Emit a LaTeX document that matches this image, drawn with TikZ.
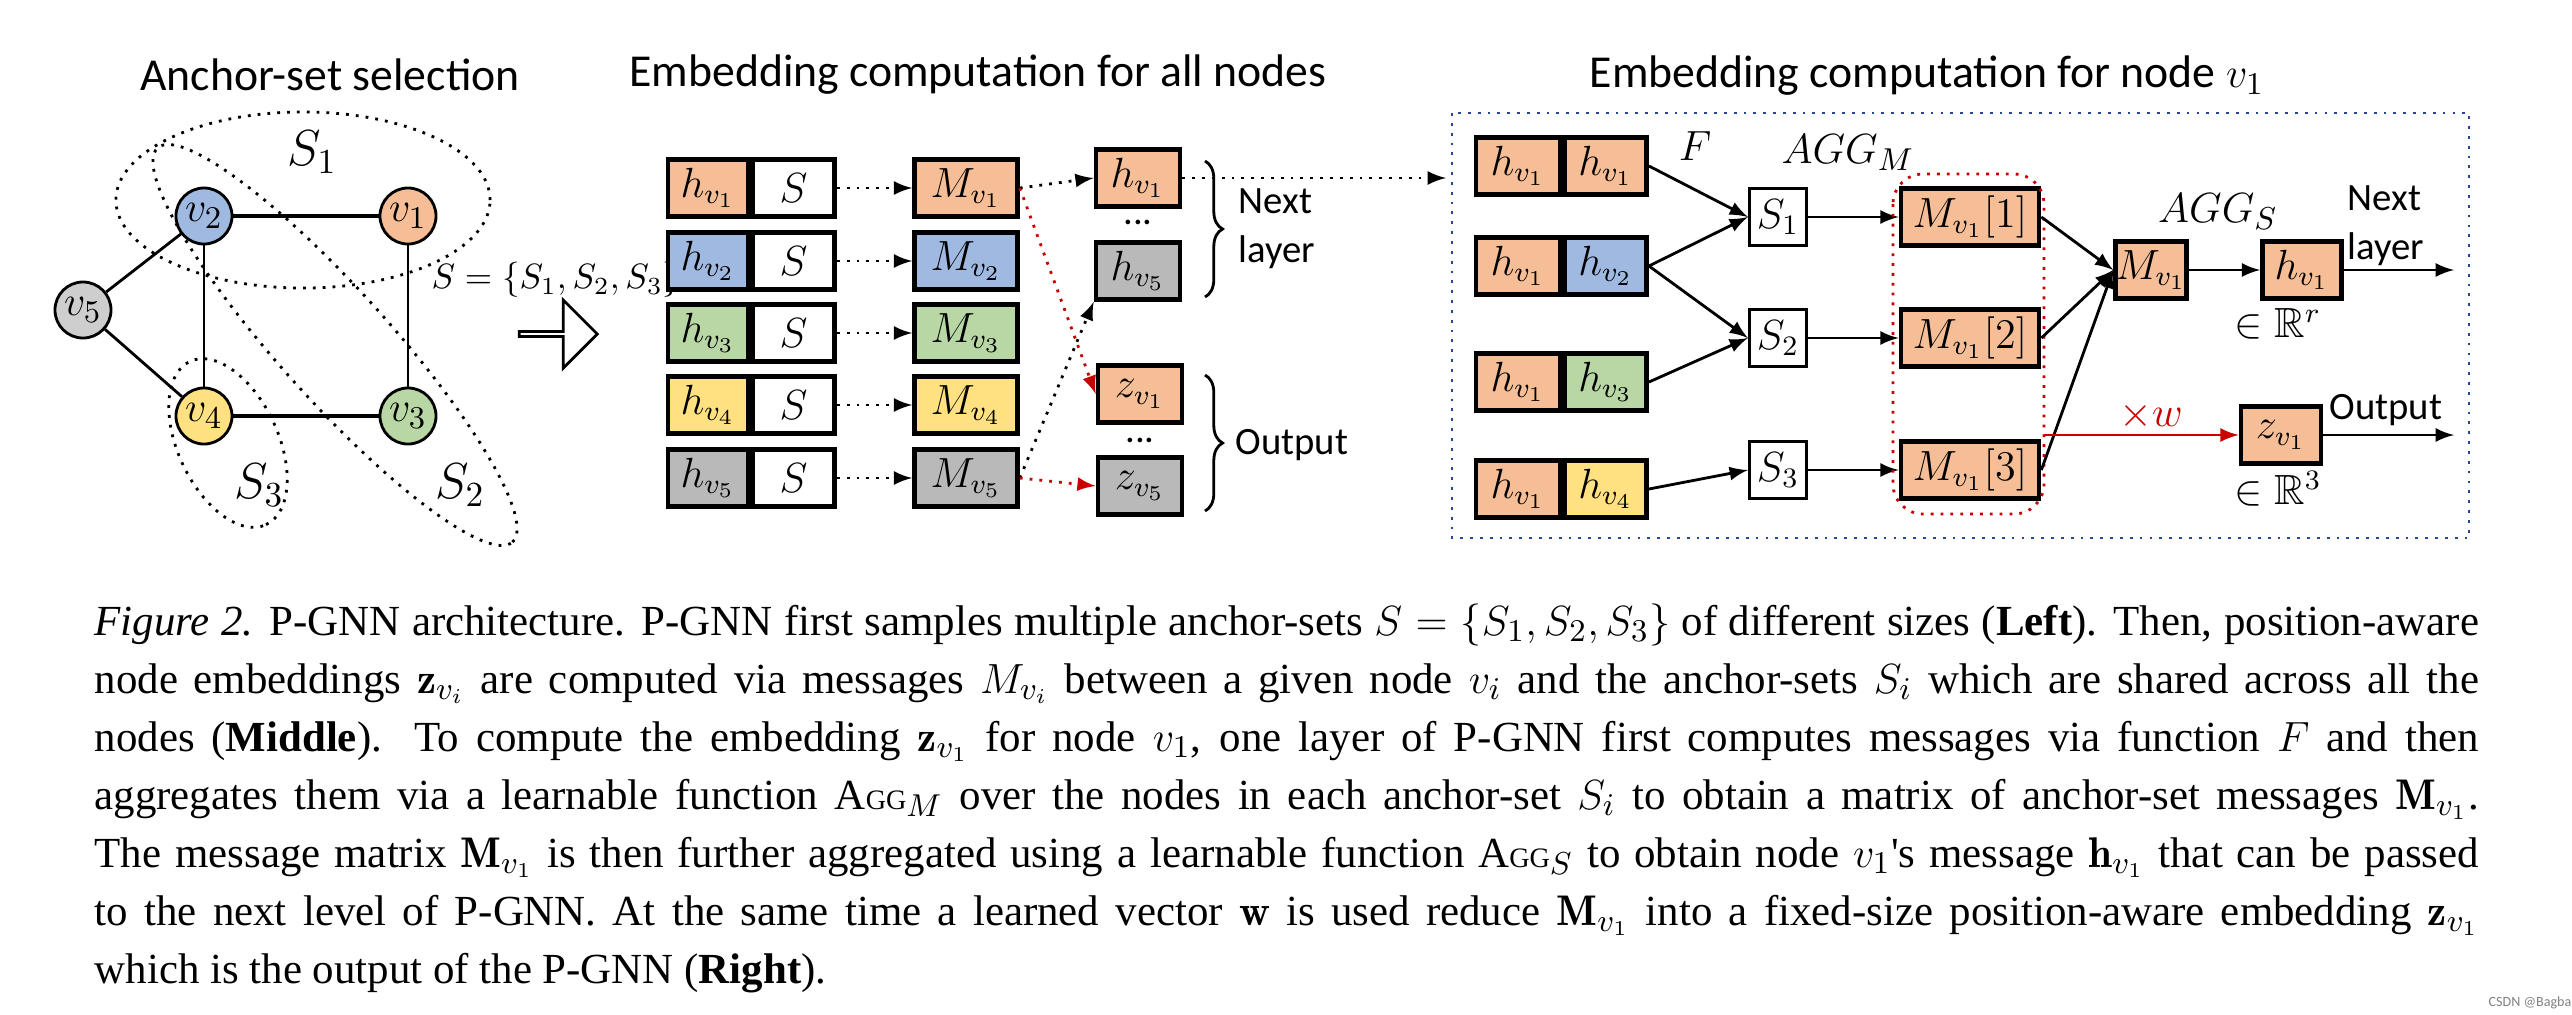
\documentclass[tikz,border=0pt]{standalone}
\usepackage{amsmath}
\usepackage{amssymb}
\usepackage{fontspec}
\usepackage{xcolor}
\usepackage{tikz}
\usetikzlibrary{positioning, shapes.arrows, decorations.pathreplacing, arrows}
\newfontfamily\diagfont{Carlito}
\newfontfamily\capfont{Liberation Serif}
\definecolor{peach}{RGB}{245,190,150}
\definecolor{skyb}{RGB}{160,185,225}
\definecolor{leaf}{RGB}{185,215,165}
\definecolor{sand}{RGB}{255,225,130}
\definecolor{ash}{RGB}{185,185,185}
\definecolor{dred}{RGB}{200,0,0}
\definecolor{dblue}{RGB}{40,70,150}
\tikzstyle{arrow} = [thick,->,>=latex]
\tikzstyle{dotarrow} = [thick,dotted,->,>=latex]

\begin{document}
\begin{tikzpicture}[
			x=0.01cm, y=-0.01cm,
			vert/.style={circle, draw, thick, minimum size=0.56cm, inner sep=0pt, font=\fontsize{13}{13}\selectfont},
			cell/.style={draw, line width=1.3pt, minimum width=0.82cm, minimum height=0.57cm, inner sep=0pt, font=\fontsize{12}{12}\selectfont},
			title/.style={font=\diagfont\fontsize{13}{13}\selectfont},
			lbl/.style={font=\diagfont\fontsize{11}{12}\selectfont, align=center}
			]
			\useasboundingbox (0,0) rectangle (2572,1014);
			
			% anchor-set selection
			\node[title] (t1) at (330,75) {Anchor-set selection};
			\draw[dotted, thick] (303,200) ellipse [x radius=1.87cm, y radius=0.88cm];
			\draw[dotted, thick, rotate around={-48:(335,345)}] (335,345) ellipse [x radius=2.65cm, y radius=0.55cm];
			\draw[dotted, thick, rotate around={-65:(228,443)}] (228,443) ellipse [x radius=0.9cm, y radius=0.5cm];
			
			\node[vert, fill=skyb] (v2) at (204,216) {$v_2$};
			\node[vert, fill=peach] (v1) at (408,216) {$v_1$};
			\node[vert, fill=ash!70] (v5) at (83,310) {$v_5$};
			\node[vert, fill=sand] (v4) at (204,416) {$v_4$};
			\node[vert, fill=leaf] (v3) at (408,416) {$v_3$};
			\draw[very thick] (v2) -- (v1);
			\draw[very thick] (v4) -- (v3);
			\draw[thick] (v5) -- (v2);
			\draw[thick] (v5) -- (v4);
			\draw (v2) -- (v4);
			\draw (v1) -- (v3);
			\node[font=\fontsize{14}{14}\selectfont] (ls1) at (312,152) {$S_1$};
			\node[font=\fontsize{14}{14}\selectfont] (ls2) at (460,485) {$S_2$};
			\node[font=\fontsize{14}{14}\selectfont] (ls3) at (259,485) {$S_3$};
			
			\node[font=\fontsize{10}{10}\selectfont, inner sep=1pt] (sset) at (556,280) {$S=\{S_1,S_2,S_3\}$};
			\node[single arrow, draw, thick, inner sep=0pt, minimum width=0.68cm, single arrow head extend=0.18cm, minimum height=0.78cm] (big) at (557,334) {};
			
			% all nodes
			\node[title] (t2) at (978,75) {Embedding computation for all nodes};
			\foreach \i/\c/\y in {1/peach/188, 2/skyb/261, 3/leaf/333, 4/sand/405, 5/ash/478} {
				\node[cell, fill=\c, minimum width=0.8cm] (h\i) at (708,\y) {$h_{v_\i}$};
				\node[cell, right=0pt of h\i] (s\i) {$S$};
				\node[cell, fill=\c, minimum width=1.03cm] (m\i) at (966,\y) {$M_{v_\i}$};
				\draw[dotarrow] (s\i) -- (m\i);
			}
			\node[cell, fill=peach, minimum width=0.84cm] (nh1) at (1138,178) {$h_{v_1}$};
			\node[cell, fill=ash, minimum width=0.84cm] (nh5) at (1138,271) {$h_{v_5}$};
			\node[cell, fill=peach, minimum width=0.84cm] (nz1) at (1140,394) {$z_{v_1}$};
			\node[cell, fill=ash, minimum width=0.84cm] (nz5) at (1140,486) {$z_{v_5}$};
			\node[lbl] (d1) at (1138,222) {...};
			\node[lbl] (d2) at (1140,440) {...};
			\draw[dotarrow] (m1.east) -- (nh1.west);
			\draw[dotarrow, dred] (m1.east) -- (nz1.west);
			\draw[dotarrow] (m5.east) -- (nh5.south west);
			\draw[dotarrow, dred] (m5.east) -- (nz5.west);
			\draw[thick, decorate, decoration={brace, amplitude=5pt}] (1205,161) -- (1205,297);
			\draw[thick, decorate, decoration={brace, amplitude=5pt}] (1205,375) -- (1205,511);
			\node[lbl, align=left] (nl) at (1277,229) {Next\\[2pt]layer};
			\node[lbl] (out) at (1292,445) {Output};
			\coordinate (into) at (1446,178);
			\draw[dotarrow] (nh1.east) -- (into);
			
			% node v1
			\node[title] (t3) at (1927,76) {Embedding computation for node $v_1$};
			\draw[dotted, thick, dblue] (1452,113) rectangle (2469,538);
			\foreach \k/\c/\y in {1/peach/166, 2/skyb/266, 3/leaf/382, 4/sand/489} {
				\node[cell, fill=peach, minimum width=0.84cm] (pa\k) at (1518,\y) {$h_{v_1}$};
				\node[cell, fill=\c, minimum width=0.82cm, right=0pt of pa\k] (pb\k) {$h_{v_\k}$};
			}
			\node[cell, fill=peach, minimum width=0.82cm] (pb1) at (pb1) {$h_{v_1}$};
			\foreach \k/\y in {1/217, 2/338, 3/470} {
				\node[cell, line width=0.9pt, minimum width=0.57cm] (sk\k) at (1778,\y) {$S_\k$};
				\node[cell, fill=peach, minimum width=1.38cm] (mk\k) at (1970,\y) {$M_{v_1}[\k]$};
				\draw[arrow] (sk\k) -- (mk\k);
			}
			\draw[arrow] (pb1.east) -- (sk1.west);
			\draw[arrow] (pb2.east) -- (sk1.west);
			\draw[arrow] (pb2.east) -- (sk2.west);
			\draw[arrow] (pb3.east) -- (sk2.west);
			\draw[arrow] (pb4.east) -- (sk3.west);
			\draw[dotted, thick, dred, rounded corners=0.3cm] (1893,174) rectangle (2044,514);
			\node[cell, fill=peach, minimum width=0.69cm] (mv) at (2151,270) {$M_{v_1}$};
			\node[cell, fill=peach, minimum width=0.79cm] (hv) at (2302,270) {$h_{v_1}$};
			\node[cell, fill=peach, minimum width=0.8cm] (zv) at (2281,435) {$z_{v_1}$};
			\foreach \k in {1,2,3} {
				\draw[arrow] (mk\k.east) -- (mv.west);
			}
			\draw[arrow] (mv) -- (hv);
			\coordinate (nxt) at (2454,270);
			\coordinate (res) at (2454,435);
			\coordinate (wsrc) at (2044,435);
			\draw[arrow] (hv.east) -- (nxt);
			\draw[arrow] (zv.east) -- (res);
			\draw[arrow, dred] (wsrc) -- (zv.west);
			\node[font=\fontsize{13}{13}\selectfont] (lf) at (1695,146) {$F$};
			\node[font=\fontsize{13}{13}\selectfont] (lam) at (1848,153) {$AGG_M$};
			\node[font=\fontsize{13}{13}\selectfont] (las) at (2218,212) {$AGG_S$};
			\node[lbl, dred, font=\diagfont\fontsize{13}{13}\selectfont] (lw) at (2151,416) {$\times w$};
			\node[lbl, align=left] (nl2) at (2386,226) {Next\\[2pt]layer};
			\node[lbl] (out2) at (2386,410) {Output};
			\node[font=\fontsize{12}{12}\selectfont] (rr) at (2278,324) {$\in\mathbb{R}^r$};
			\node[font=\fontsize{12}{12}\selectfont] (r3) at (2278,489) {$\in\mathbb{R}^3$};
			
			% caption
			\node[anchor=north west, inner sep=0pt, text width=23.83cm, align=justify, font=\capfont\fontsize{12.2}{16.5}\selectfont] (cap) at (94,603) {%
				\textit{Figure 2.} P-GNN architecture. P-GNN first samples multiple anchor-sets $S=\{S_1,S_2,S_3\}$ of different sizes (\textbf{Left}). Then, position-aware\linebreak
				node embeddings $\mathbf{z}_{v_i}$ are computed via messages $M_{v_i}$ between a given node $v_i$ and the anchor-sets $S_i$ which are shared across all the\linebreak
				nodes (\textbf{Middle}). To compute the embedding $\mathbf{z}_{v_1}$ for node $v_1$, one layer of P-GNN first computes messages via function $F$ and then\linebreak
				aggregates them via a learnable function A{\footnotesize GG}$_M$ over the nodes in each anchor-set $S_i$ to obtain a matrix of anchor-set messages $\mathbf{M}_{v_1}$.\linebreak
				The message matrix $\mathbf{M}_{v_1}$ is then further aggregated using a learnable function A{\footnotesize GG}$_S$ to obtain node $v_1$'s message $\mathbf{h}_{v_1}$ that can be passed\linebreak
				to the next level of P-GNN. At the same time a learned vector $\mathbf{w}$ is used reduce $\mathbf{M}_{v_1}$ into a fixed-size position-aware embedding $\mathbf{z}_{v_1}$\linebreak
				which is the output of the P-GNN (\textbf{Right}).};
			\node[font=\diagfont\fontsize{4}{4}\selectfont, gray] (wm) at (2530,1003) {CSDN @Bagba};
		\end{tikzpicture}
\end{document}
